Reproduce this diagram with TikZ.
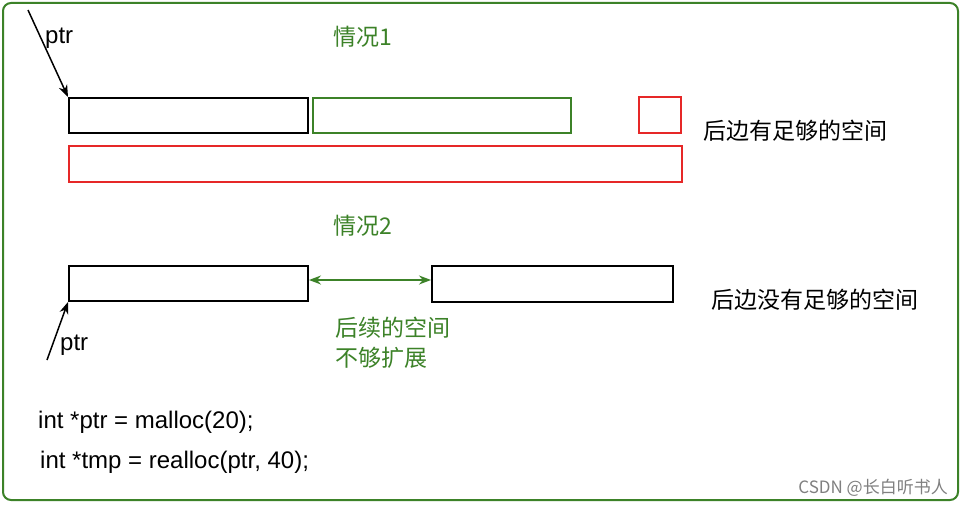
\documentclass[tikz,border=0pt]{standalone}
\usepackage{fontspec}
\setmainfont{Liberation Sans}
\newfontfamily\cjk{Noto Sans CJK SC}
\usetikzlibrary{arrows.meta}
\definecolor{gr}{RGB}{60,130,40}
\definecolor{rd}{RGB}{230,40,40}
\begin{document}
\begin{tikzpicture}[x=1pt,y=-1pt,
 blk/.style={draw=black,line width=2pt},
 grn/.style={draw=gr,line width=2pt},
 red/.style={draw=rd,line width=2pt},
 lab/.style={font=\cjk\fontsize{23}{25}\selectfont,inner sep=0},
 glab/.style={lab,text=gr},
 code/.style={font=\fontsize{24}{26}\selectfont,anchor=west,inner sep=0}]
\useasboundingbox (0,0) rectangle (963,508);
\fill[white] (0,0) rectangle (963,508);
\draw[gr,line width=2pt,rounded corners=8pt] (3,3) rectangle (958,500);
\node[code] (p1) at (45,38) {ptr};
\coordinate (a1) at (28,10);
\node[blk,minimum width=239,minimum height=35,anchor=north west,inner sep=0] (b1) at (68,97) {};
\node[grn,minimum width=258,minimum height=35,anchor=north west,inner sep=0] (g1) at (312,97) {};
\node[red,minimum width=42,minimum height=36,anchor=north west,inner sep=0] (r1) at (638,96) {};
\node[red,minimum width=613,minimum height=36,anchor=north west,inner sep=0] (r2) at (68,145) {};
\draw[-{Stealth[length=12pt,width=9pt]},line width=1.5pt] (a1) -- (b1.north west);
\node[glab] (t1) at (363,37) {情况1};
\node[lab] (t2) at (795,131) {后边有足够的空间};
\node[glab] (t3) at (363,226) {情况2};
\node[blk,minimum width=239,minimum height=35,anchor=north west,inner sep=0] (b2) at (68,265) {};
\node[blk,minimum width=241,minimum height=36,anchor=north west,inner sep=0] (b3) at (431,265) {};
\draw[gr,{Stealth[length=12pt,width=9pt]}-{Stealth[length=12pt,width=9pt]},line width=1.5pt] (b2.east|-0,280) -- (b3.west|-0,280);
\node[glab,anchor=west] (t4) at (335,328) {后续的空间};
\node[glab,anchor=west] (t5) at (335,358) {不够扩展};
\coordinate (a2) at (47,360);
\draw[-{Stealth[length=12pt,width=9pt]},line width=1.5pt] (a2) -- (b2.south west);
\node[code] (p2) at (60,345) {ptr};
\node[lab] (t6) at (815,300) {后边没有足够的空间};
\node[code] (c1) at (38,422) {int *ptr = malloc(20);};
\node[code] (c2) at (40,462) {int *tmp = realloc(ptr, 40);};
\node[font=\cjk\fontsize{17}{19}\selectfont,text=gray,anchor=east,inner sep=0] (w) at (948,488) {CSDN @长白听书人};
\end{tikzpicture}
\end{document}
